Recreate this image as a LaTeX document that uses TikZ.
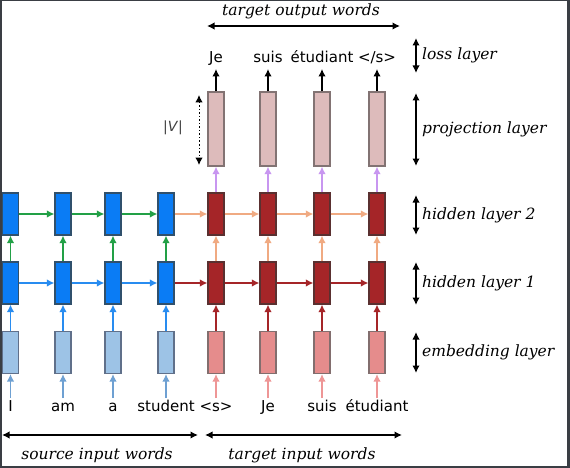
\documentclass[tikz,border=0pt]{standalone}
\usepackage{fontspec}
\setmainfont{DejaVu Serif}
\setsansfont{DejaVu Sans}
\usetikzlibrary{arrows.meta}

\definecolor{framegray}{RGB}{58,62,68}
\definecolor{srchid}{RGB}{10,124,245}
\definecolor{srchidline}{RGB}{48,80,108}
\definecolor{srcemb}{RGB}{157,195,230}
\definecolor{srcembline}{RGB}{96,112,138}
\definecolor{srcin}{RGB}{110,160,210}
\definecolor{srcup}{RGB}{40,140,240}
\definecolor{srcgreen}{RGB}{34,160,70}
\definecolor{tgthid}{RGB}{165,37,40}
\definecolor{tgthidline}{RGB}{90,48,48}
\definecolor{tgtemb}{RGB}{229,140,140}
\definecolor{tgtembline}{RGB}{130,110,110}
\definecolor{tgtin}{RGB}{238,150,150}
\definecolor{salmon}{RGB}{240,170,130}
\definecolor{violetup}{RGB}{200,150,240}
\definecolor{projfill}{RGB}{221,187,187}
\definecolor{projline}{RGB}{130,115,115}

\tikzset{
  cell/.style={rectangle, inner sep=0pt, minimum width=16pt, line width=1.1pt},
  hid/.style={cell, minimum height=42pt},
  proj/.style={cell, minimum height=74pt, fill=projfill, draw=projline},
  word/.style={font=\sffamily\fontsize{15}{18}\selectfont, inner sep=2pt, text height=11.5pt, text depth=4pt},
  layername/.style={font=\itshape\fontsize{15.5}{18}\selectfont, inner sep=0pt},
  arr/.style={-{Latex[length=7.5pt,width=7.5pt]}, line width=1.8pt},
  dimarrow/.style={{Latex[length=7.5pt,width=7.5pt]}-{Latex[length=7.5pt,width=7.5pt]}, line width=1.5pt},
}

\begin{document}
\begin{tikzpicture}[x=1pt,y=-1pt]
    \useasboundingbox (0,0) rectangle (570,468);
    % frame
    \fill[framegray] (0,0) rectangle (570,468);
    \fill[white] (1.7,1.2) rectangle (567.3,465.7);

    % source side
    \foreach \x/\w [count=\i] in {10.5/I,63/am,113/a,166/student} {
      \node[word] (in\i) at (\x,408) {\w};
      \node[hid, fill=srcemb, draw=srcembline] (emb\i) at (\x,352.5) {};
      \node[hid, fill=srchid, draw=srchidline] (hA\i) at (\x,283) {};
      \node[hid, fill=srchid, draw=srchidline] (hB\i) at (\x,214) {};
      \draw[arr, srcin] (in\i) -- (emb\i);
      \draw[arr, srcup] (emb\i) -- (hA\i);
      \draw[arr, srcgreen] (hA\i) -- (hB\i);
    }

    % target side
    \foreach \x/\w/\o [count=\i from 5] in {216/{<s>}/Je,268/Je/suis,322/suis/étudiant,377/étudiant/{</s>}} {
      \node[word] (in\i) at (\x,408) {\w};
      \node[hid, fill=tgtemb, draw=tgtembline] (emb\i) at (\x,352.5) {};
      \node[hid, fill=tgthid, draw=tgthidline] (hA\i) at (\x,283) {};
      \node[hid, fill=tgthid, draw=tgthidline] (hB\i) at (\x,214) {};
      \node[proj] (pr\i) at (\x,129) {};
      \node[word] (out\i) at (\x,59) {\o};
      \draw[arr, tgtin] (in\i) -- (emb\i);
      \draw[arr, tgthid] (emb\i) -- (hA\i);
      \draw[arr, salmon] (hA\i) -- (hB\i);
      \draw[arr, violetup] (hB\i) -- (pr\i);
      \draw[arr, black] (pr\i) -- (out\i);
    }

    % recurrent links
    \foreach \i [evaluate=\i as \j using int(\i+1)] in {1,2,3} {
      \draw[arr, srcup] (hA\i) -- (hA\j);
      \draw[arr, srcgreen] (hB\i) -- (hB\j);
    }
    \foreach \i [evaluate=\i as \j using int(\i+1)] in {4,5,6,7} {
      \draw[arr, tgthid] (hA\i) -- (hA\j);
      \draw[arr, salmon] (hB\i) -- (hB\j);
    }

    % |V|
    \coordinate (vtop) at (199,95);
    \coordinate (vbot) at (199,165);
    \draw[dimarrow, dotted, line width=1pt] (vtop) -- (vbot);
    \node[font=\sffamily\fontsize{14}{17}\selectfont, text=black!75] (vsize) at (173,128) {|\textit{V}|};

    % layer names
    \foreach \a/\b/\t [count=\k] in {38/73/loss layer,93/166/projection layer,195/235/hidden layer 2,262/305/hidden layer 1,332/373/embedding layer} {
      \coordinate (top\k) at (416,\a);
      \coordinate (bot\k) at (416,\b);
      \draw[dimarrow] (top\k) -- (bot\k);
      \node[layername, anchor=west] (lay\k) at (422,{(\a+\b)/2}) {\t};
    }

    % word groups
    \coordinate (outL) at (207,26);
    \coordinate (outR) at (400,26);
    \draw[dimarrow] (outL) -- (outR);
    \node[layername] (outlab) at (301,11) {target output words};

    \coordinate (srcL) at (2,435);
    \coordinate (srcR) at (198,435);
    \draw[dimarrow] (srcL) -- (srcR);
    \node[layername] (srclab) at (97,455) {source input words};

    \coordinate (tgtL) at (205,435);
    \coordinate (tgtR) at (402,435);
    \draw[dimarrow] (tgtL) -- (tgtR);
    \node[layername] (tgtlab) at (302,455) {target input words};
\end{tikzpicture}
\end{document}
